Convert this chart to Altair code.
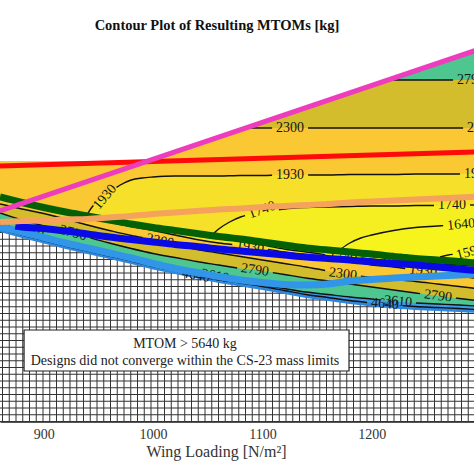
import altair as alt
import pandas as pd
import numpy as np

# ---------------- data ----------------
# x: wing loading [N/m^2]; y: hidden vertical design variable (chart units, grows downward)
WL = [860, 880, 900, 920, 940, 960, 980, 1000, 1020, 1040, 1060, 1080, 1100,
      1120, 1140, 1160, 1180, 1200, 1220, 1240, 1260, 1280, 1300]

# upper edge of converged designs (left: flat, right: magenta constraint)
TOP = [161, 161, 161, 161, 161, 161, 161, 159.3, 151.9, 144.5, 137.1, 129.6, 122.5,
       115.1, 107.7, 100.3, 92.8, 85.4, 78.0, 70.9, 63.5, 56.0, 48.6]
# lower edge of converged designs (MTOM = 5640 kg, hatched below)
EDGE_5640 = [232, 238, 243.5, 249, 254, 259, 264, 269.5, 274, 278.5, 283, 286.5, 290,
             294, 298, 301, 304, 306.5, 308.5, 310, 311, 312, 313.3]
LOW_4640 = [229, 235, 240.5, 246, 251, 256, 261, 266.5, 271, 275.5, 279.5, 283, 286.5,
            290.5, 294.5, 297.5, 300.5, 303, 305, 306.5, 307.5, 308.5, 309.8]
LOW_3610 = [224, 229.5, 236, 242, 247.5, 253, 258.5, 263.5, 268, 272.5, 277, 281, 285,
            288.5, 292, 294.5, 297, 299, 301.5, 303, 304, 305, 306.3]
LOW_2790 = [213, 220, 226, 231.5, 237, 243, 248.5, 253.5, 257.5, 261.5, 265, 268.5, 271,
            274.5, 278, 281, 284, 287, 290, 293, 296, 298.5, 301]
LOW_2300 = [204, 209, 213.5, 219, 225, 230.5, 235.5, 239.5, 244.5, 249.5, 253, 256.5, 260,
            263.5, 267, 271, 275, 277.5, 279.5, 281.5, 284, 286.5, 289]
UP_2790_X = [1215, 1300]
UP_2790 = [80, 80]
UP_2300_X = [1085, 1300]
UP_2300 = [128, 128]

R1930_X = [940, 945, 950, 960, 970, 980, 990, 1000, 1020, 1040, 1060, 1080, 1100,
           1120, 1140, 1160, 1180, 1200, 1220, 1240, 1260, 1280, 1300]
UP_1930 = [214, 206, 200, 192, 185, 180, 178, 177, 176, 176, 176, 175.5, 175.5,
           175, 175, 175, 174.5, 174.5, 174.5, 174, 174, 174, 174]
LOW_1930 = [214, 217, 219, 222, 224.5, 226.5, 228.5, 230.5, 235, 239.5, 243, 245.5, 248.5,
            252, 255, 258, 261, 265, 267, 270, 273, 276, 279]
R1740_X = [1054.8, 1060, 1070, 1080, 1090, 1100, 1120, 1140, 1160, 1180, 1200, 1220,
           1240, 1260, 1280, 1300]
UP_1740 = [234, 229, 222, 217, 213.5, 212, 209, 207.5, 207, 206.5, 206, 206, 205.5, 205.5, 205, 205]
LOW_1740 = [234, 237, 239.5, 241.5, 243.5, 245, 249, 252, 255, 257, 259, 261, 262.5, 264, 265, 266.5]
R1640_X = [1169.2, 1180, 1190, 1200, 1220, 1240, 1260, 1280, 1300]
UP_1640 = [251, 243, 238, 235, 230.5, 227.5, 226, 224.5, 223.5]
LOW_1640 = [251, 254, 255.5, 256.5, 258.5, 260, 261, 262, 263]
R1590_X = [1262.5, 1270, 1280, 1290, 1300]
UP_1590 = [257, 255, 253.5, 252, 250.5]
LOW_1590 = [257, 258.5, 259.5, 260.5, 261.5]

# constraint lines
MAGENTA_X = [860, 1300]
MAGENTA = [211, 48.6]
RED_X = [860, 1300]
RED = [166, 151.8]
GREEN = [197, 202.5, 207.5, 212, 216, 220, 224, 227.5, 230.5, 233.5, 236.5, 239, 242,
         245, 248, 250, 252, 254, 256.5, 258.5, 260, 261.5, 263.5]
BLUE_X = [874] + WL[1:]
BLUE = [226, 227, 228.5, 231, 234, 237, 239.5, 242, 244.5, 246.5, 249, 251, 253,
        255, 257, 258.5, 260, 262, 263.5, 265, 267, 269, 271]
ORANGE = [222, 221, 220.5, 219.5, 219, 217.5, 216, 214, 212.5, 211, 209.5, 208.5, 207,
          206, 205, 204, 202.5, 201.5, 200.5, 199.5, 198.5, 197.5, 196.5]
DODGER = [227, 232, 237.5, 243, 248, 253, 258, 263.5, 268.5, 272.5, 276.5, 280, 282.5,
          284.5, 285, 284, 281, 279.5, 278, 277, 276, 275, 274]

# contour labels: text, x, y, angle, contour
LBL_TEXT = ["2790", "2300", "2300", "1930", "1930", "1930", "1740", "1740", "1640", "1590",
            "1930", "1930", "1740", "1640", "2300", "2300", "2790", "2790", "2790",
            "3610", "3610", "3610", "4640", "4640"]
LBL_X = [1290.8, 1125.3, 1300, 956, 1125.3, 1297.2, 1099.6, 1273.4, 1281.7, 1289.9,
         1088.7, 1246.9, 1173.7, 1221.3, 1006.3, 1173.7, 926.8, 1093.2, 1260.6,
         887.4, 1056.7, 1224, 1039.3, 1212.1]
LBL_Y = [80, 128, 128, 197, 175, 174, 210, 205, 224.5, 252,
         247, 271, 256.5, 258.5, 241, 274, 233, 270, 296,
         232, 276, 301.5, 275.5, 304]
LBL_ANGLE = [0, 0, 0, 310, 0, 0, 340, 0, 355, 345,
             8, 7, 7, 5, 12, 7, 15, 8, 7,
             15, 10, 5, 10, 5]
LBL_LINE = ["2790U", "2300U", "2300U", "1930U", "1930U", "1930U", "1740U", "1740U", "1640U", "1590U",
            "1930L", "1930L", "1740L", "1640L", "2300L", "2300L", "2790L", "2790L", "2790L",
            "3610L", "3610L", "3610L", "4640L", "4640L"]

NOTE_LINES = ["MTOM > 5640 kg", "Designs did not converge within the CS-23 mass limits"]
NOTE_BOX_X = [882, 1179.2]
NOTE_BOX_Y = [330, 371]
NOTE_TEXT_X = 1029.2
NOTE_TEXT_Y = [343.5, 361]

# band colours
COL_5640 = "#2f86dc"
COL_4640 = "#3d9de6"
COL_3610 = "#4dc68f"
COL_2790 = "#d3bd2d"
COL_2300 = "#fac832"
COL_1930 = "#f7e02a"
COL_1740 = "#f5ee21"
COL_1640 = "#f7f41d"
COL_1590 = "#f9fa14"

SERIF = "Liberation Serif"
X_DOMAIN = [860, 1293.5]
Y_DOMAIN = [422, 45]
PX_PER_X = 474 / (X_DOMAIN[1] - X_DOMAIN[0])

xs = alt.Scale(domain=X_DOMAIN, nice=False, zero=False)
ys = alt.Scale(domain=Y_DOMAIN, nice=False, zero=False)
x_axis = alt.Axis(values=[900, 1000, 1100, 1200], format="d", labelFont=SERIF, labelFontSize=14,
                  labelColor="#333", ticks=False, grid=False, domain=True, domainColor="#555",
                  labelPadding=5, title="Wing Loading [N/m²]", titleFont=SERIF,
                  titleFontSize=16, titleFontWeight="normal", titleColor="#333",
                  titlePadding=2, titleX=216)


def X(field="x"):
    return alt.X(f"{field}:Q", scale=xs, axis=x_axis)


def Y(field="y"):
    return alt.Y(f"{field}:Q", scale=ys, axis=None)


layers = []

# ---- hatched (non-converged) region: a square grid underneath everything ----
step = 6.75
vx = np.arange(860 + 2.5 / PX_PER_X, 1300, step / PX_PER_X)
hy = np.arange(421.5, 222, -step)
vdf = pd.DataFrame({"x": vx, "y": 222.0, "y2": 421.5})
hdf = pd.DataFrame({"y": hy, "x": 860.0, "x2": 1300.0})
layers.append(alt.Chart(vdf).mark_rule(color="#333", strokeWidth=1, clip=True)
              .encode(x=X(), y=Y(), y2="y2:Q"))
layers.append(alt.Chart(hdf).mark_rule(color="#333", strokeWidth=1, clip=True)
              .encode(y=Y(), x=X(), x2="x2:Q"))

# ---- filled contour bands (painted outermost first) ----
top = np.array(TOP)
regions = [
    (WL, TOP, EDGE_5640, COL_5640),
    (WL, TOP, LOW_4640, COL_4640),
    (WL, TOP, LOW_3610, COL_3610),
    (WL, list(np.maximum(top, UP_2790[0])), LOW_2790, COL_2790),
    (WL, list(np.maximum(top, UP_2300[0])), LOW_2300, COL_2300),
    (R1930_X, UP_1930, LOW_1930, COL_1930),
    (R1740_X, UP_1740, LOW_1740, COL_1740),
    (R1640_X, UP_1640, LOW_1640, COL_1640),
    (R1590_X, UP_1590, LOW_1590, COL_1590),
]
for rx, rt, rb, col in regions:
    df = pd.DataFrame({"x": rx, "y": rt, "y2": rb})
    layers.append(alt.Chart(df).mark_area(color=col, interpolate="monotone", clip=True)
                  .encode(x=X(), y=Y(), y2="y2:Q"))

# ---- contour lines, broken where labels sit ----
contours = {
    "2790U": (UP_2790_X, UP_2790), "2300U": (UP_2300_X, UP_2300),
    "1930U": (R1930_X, UP_1930), "1930L": (R1930_X, LOW_1930),
    "1740U": (R1740_X, UP_1740), "1740L": (R1740_X, LOW_1740),
    "1640U": (R1640_X, UP_1640), "1640L": (R1640_X, LOW_1640),
    "1590U": (R1590_X, UP_1590), "1590L": (R1590_X, LOW_1590),
    "2300L": (WL, LOW_2300), "2790L": (WL, LOW_2790),
    "3610L": (WL, LOW_3610), "4640L": (WL, LOW_4640),
}
gap_half_px = 18
seg_rows = []
for key, (cx, cy) in contours.items():
    cx = np.asarray(cx, float)
    cy = np.asarray(cy, float)
    gaps = []
    for t, lx, ang, ln in zip(LBL_TEXT, LBL_X, LBL_ANGLE, LBL_LINE):
        if ln == key:
            half = gap_half_px * abs(np.cos(np.radians(ang))) / PX_PER_X
            gaps.append((lx - half, lx + half))
    pieces = [(cx[0], cx[-1])]
    for lo, hi in sorted(gaps):
        new = []
        for a, b in pieces:
            if hi <= a or lo >= b:
                new.append((a, b))
                continue
            if lo > a:
                new.append((a, lo))
            if hi < b:
                new.append((hi, b))
        pieces = new
    for i, (a, b) in enumerate(pieces):
        inner = cx[(cx > a) & (cx < b)]
        px = np.concatenate([[a], inner, [b]])
        py = np.interp(px, cx, cy)
        for xv, yv in zip(px, py):
            seg_rows.append({"seg": f"{key}-{i}", "x": xv, "y": yv})
seg_df = pd.DataFrame(seg_rows)
layers.append(alt.Chart(seg_df).mark_line(color="#111", strokeWidth=1.4,
                                          interpolate="monotone", clip=True)
              .encode(x=X(), y=Y(), detail="seg:N"))

# ---- contour labels ----
lbl_df = pd.DataFrame({"t": LBL_TEXT, "x": LBL_X, "y": LBL_Y, "a": LBL_ANGLE})
layers.append(alt.Chart(lbl_df).mark_text(font=SERIF, fontSize=14, color="#151515",
                                          align="center", baseline="middle", clip=True)
              .encode(x=X(), y=Y(), text="t:N", angle=alt.Angle("a:Q", scale=None)))

# ---- constraint lines ----
def cline(xv, yv, col, w):
    df = pd.DataFrame({"x": xv, "y": yv})
    return (alt.Chart(df).mark_line(color=col, strokeWidth=w, interpolate="monotone",
                                    clip=True, strokeCap="butt")
            .encode(x=X(), y=Y()))

layers.append(cline(WL, DODGER, "#3196ea", 7))
layers.append(cline(WL, GREEN, "#046004", 7))
layers.append(cline(BLUE_X, BLUE, "#0a0ae6", 7))
layers.append(cline(RED_X, RED, "#ff0a0a", 5))
layers.append(cline(WL, ORANGE, "#f4a25c", 6))
layers.append(cline(MAGENTA_X, MAGENTA, "#ee3cbe", 5))

# ---- note box ----
box_df = pd.DataFrame({"x": [NOTE_BOX_X[0]], "x2": [NOTE_BOX_X[1]],
                       "y": [NOTE_BOX_Y[0]], "y2": [NOTE_BOX_Y[1]]})
layers.append(alt.Chart(box_df).mark_rect(fill="white", stroke="#222", strokeWidth=1.2)
              .encode(x=X(), x2="x2:Q", y=Y(), y2="y2:Q"))
note_df = pd.DataFrame({"t": NOTE_LINES, "x": NOTE_TEXT_X, "y": NOTE_TEXT_Y})
layers.append(alt.Chart(note_df).mark_text(font=SERIF, fontSize=14, color="#222",
                                           align="center", baseline="middle")
              .encode(x=X(), y=Y(), text="t:N"))

chart = alt.layer(*layers).properties(
    width=474, height=377,
    background="white",
    autosize=alt.AutoSizeParams(type="none"),
    padding={"left": 0, "top": 45, "right": 0, "bottom": 52},
    title=alt.TitleParams("Contour Plot of Resulting MTOMs [kg]", font=SERIF, fontSize=14.5,
                          fontWeight="bold", color="#111", anchor="middle", dx=-20, offset=12),
).configure_view(strokeWidth=0, stroke=None)

chart.save("out.html", embed_options={"renderer": "svg", "actions": False})
